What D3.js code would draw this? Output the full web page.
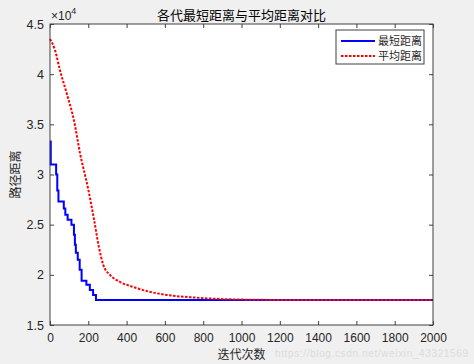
<!DOCTYPE html>
<html>
<head>
<meta charset="utf-8">
<script src="https://cdn.jsdelivr.net/npm/d3@7"></script>
<style>
  body { margin: 0; background: #f0f0f0; }
  #wrapper { width: 474px; height: 364px; }
</style>
</head>
<body>
<div id="wrapper"></div>
<script>
// best path length per generation (step changes), x1e4
const bestIter = [0, 4, 32, 38, 44, 72, 80, 92, 112, 125, 130, 135, 145, 155, 165, 190, 208, 225, 240, 2000]
const bestDist = [3.33, 3.10, 3.00, 2.84, 2.73, 2.66, 2.60, 2.55, 2.50, 2.40, 2.30, 2.22, 2.15, 2.05, 1.94, 1.90, 1.85, 1.80, 1.75, 1.75]

// average path length per generation, x1e4
const avgIter = [0, 26, 52, 87, 125, 157, 200, 230, 256, 278, 313, 365, 434, 522, 610, 783, 957, 1200, 2000]
const avgDist = [4.35, 4.24, 4.04, 3.81, 3.54, 3.21, 2.85, 2.55, 2.27, 2.10, 2.00, 1.93, 1.88, 1.83, 1.80, 1.77, 1.755, 1.75, 1.75]

const xTicks = [0, 200, 400, 600, 800, 1000, 1200, 1400, 1600, 1800, 2000]
const yTicks = [1.5, 2, 2.5, 3, 3.5, 4, 4.5]
const seriesNames = ["最短距离", "平均距离"]

function drawChart() {
  const best = bestIter.map((d, i) => ({ x: d, y: bestDist[i] }))
  const avg = avgIter.map((d, i) => ({ x: d, y: avgDist[i] }))

  const dimensions = {
    width: 474,
    height: 364,
    margin: { top: 24, right: 41, bottom: 39, left: 50 },
  }
  dimensions.boundedWidth = dimensions.width - dimensions.margin.left - dimensions.margin.right
  dimensions.boundedHeight = dimensions.height - dimensions.margin.top - dimensions.margin.bottom

  const wrapper = d3.select("#wrapper")
    .append("svg")
    .attr("width", dimensions.width)
    .attr("height", dimensions.height)
    .style("background", "#f0f0f0")

  const bounds = wrapper.append("g")
    .attr("transform", `translate(${dimensions.margin.left},${dimensions.margin.top})`)

  // axes background
  bounds.append("rect")
    .attr("width", dimensions.boundedWidth)
    .attr("height", dimensions.boundedHeight)
    .attr("fill", "#ffffff")

  // scales
  const xScale = d3.scaleLinear()
    .domain([0, 2000])
    .range([0, dimensions.boundedWidth])
  const yScale = d3.scaleLinear()
    .domain([1.5, 4.5])
    .range([dimensions.boundedHeight, 0])

  // lines
  const bestLine = d3.line()
    .x(d => xScale(d.x))
    .y(d => yScale(d.y))
    .curve(d3.curveStepAfter)
  const avgLine = d3.line()
    .x(d => xScale(d.x))
    .y(d => yScale(d.y))
    .curve(d3.curveMonotoneX)

  bounds.append("path")
    .datum(best)
    .attr("d", bestLine)
    .attr("fill", "none")
    .attr("stroke", "#0000ff")
    .attr("stroke-width", 2)

  bounds.append("path")
    .datum(avg)
    .attr("d", avgLine)
    .attr("fill", "none")
    .attr("stroke", "#ff0000")
    .attr("stroke-width", 2)
    .attr("stroke-dasharray", "2.5,1.5")

  // axes (ticks inside, box on)
  const axisColor = "#404040"
  const tickFont = "'Liberation Sans', Arial, sans-serif"

  const xAxis = bounds.append("g")
    .attr("transform", `translate(0,${dimensions.boundedHeight})`)
    .call(d3.axisBottom(xScale).tickValues(xTicks).tickSize(-4).tickSizeOuter(0).tickPadding(8)
      .tickFormat(d3.format("d")))
  const yAxis = bounds.append("g")
    .call(d3.axisLeft(yScale).tickValues(yTicks).tickSize(-4).tickSizeOuter(0).tickPadding(6)
      .tickFormat(d3.format("")))
  const xTop = bounds.append("g")
    .call(d3.axisTop(xScale).tickValues(xTicks).tickSize(-4).tickSizeOuter(0).tickFormat(""))
  const yRight = bounds.append("g")
    .attr("transform", `translate(${dimensions.boundedWidth},0)`)
    .call(d3.axisRight(yScale).tickValues(yTicks).tickSize(-4).tickSizeOuter(0).tickFormat(""))

  ;[xAxis, yAxis, xTop, yRight].forEach(a => {
    a.select(".domain").remove()
    a.selectAll("line").attr("stroke", axisColor)
    a.selectAll("text")
      .attr("fill", "#262626")
      .style("font-family", tickFont)
      .style("font-size", "12.5px")
  })
  xAxis.selectAll("text").style("font-size", "12px")

  bounds.append("rect")
    .attr("width", dimensions.boundedWidth)
    .attr("height", dimensions.boundedHeight)
    .attr("fill", "none")
    .attr("stroke", axisColor)
    .attr("stroke-width", 1)

  // exponent label
  const expLabel = wrapper.append("text")
    .attr("x", 51)
    .attr("y", 20)
    .attr("fill", "#262626")
    .style("font-family", tickFont)
    .style("font-size", "12px")
  expLabel.append("tspan").text("×10")
  expLabel.append("tspan")
    .attr("dy", -6)
    .style("font-size", "9px")
    .text("4")

  const cjkFont = "'Noto Sans CJK SC', sans-serif"

  // title
  wrapper.append("text")
    .attr("x", dimensions.margin.left + dimensions.boundedWidth / 2)
    .attr("y", 15)
    .attr("dy", "0.35em")
    .attr("text-anchor", "middle")
    .attr("fill", "#000")
    .style("font-family", cjkFont)
    .style("font-size", "13px")
    .text("各代最短距离与平均距离对比")

  // axis labels
  wrapper.append("text")
    .attr("x", dimensions.margin.left + dimensions.boundedWidth / 2)
    .attr("y", 354.5)
    .attr("dy", "0.35em")
    .attr("text-anchor", "middle")
    .attr("fill", "#262626")
    .style("font-family", cjkFont)
    .style("font-size", "12px")
    .text("迭代次数")

  wrapper.append("text")
    .attr("transform", `translate(16,${dimensions.margin.top + dimensions.boundedHeight / 2}) rotate(-90)`)
    .attr("dy", "0.35em")
    .attr("text-anchor", "middle")
    .attr("fill", "#262626")
    .style("font-family", cjkFont)
    .style("font-size", "12px")
    .text("路径距离")

  // legend
  const legend = wrapper.append("g")
    .attr("transform", "translate(336,30)")
  legend.append("rect")
    .attr("width", 88)
    .attr("height", 34)
    .attr("fill", "#ffffff")
    .attr("stroke", axisColor)
    .attr("stroke-width", 1)
  const legendStyles = [
    { color: "#0000ff", dash: null },
    { color: "#ff0000", dash: "2.5,1.5" },
  ]
  seriesNames.forEach((name, i) => {
    const y = 11 + i * 15
    legend.append("line")
      .attr("x1", 5).attr("x2", 39)
      .attr("y1", y).attr("y2", y)
      .attr("stroke", legendStyles[i].color)
      .attr("stroke-width", 2)
      .attr("stroke-dasharray", legendStyles[i].dash)
    legend.append("text")
      .attr("x", 42)
      .attr("y", y)
      .attr("dy", "0.35em")
      .attr("fill", "#262626")
      .style("font-family", cjkFont)
      .style("font-size", "11px")
      .text(name)
  })

  // watermark
  wrapper.append("text")
    .attr("x", 275)
    .attr("y", 353)
    .attr("dy", "0.35em")
    .attr("fill", "#dcdcdc")
    .attr("textLength", 193)
    .style("font-family", tickFont)
    .style("font-size", "10px")
    .text("https://blog.csdn.net/weixin_43321569")
}
drawChart()
</script>
</body>
</html>
